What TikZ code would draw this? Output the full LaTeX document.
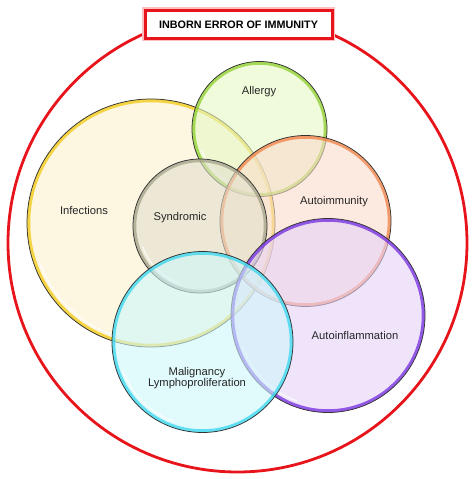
\documentclass[tikz,border=0pt]{standalone}
\usepackage{fontspec}
\setmainfont{Liberation Sans}
\definecolor{ired}{HTML}{E8141C}
\definecolor{yelF}{HTML}{FBF1CF}\definecolor{yelD}{HTML}{F2C600}
\definecolor{gryF}{HTML}{E2E0CE}\definecolor{gryD}{HTML}{A09E84}
\definecolor{grnF}{HTML}{E6F8C4}\definecolor{grnD}{HTML}{86CC20}
\definecolor{orgF}{HTML}{FADCCB}\definecolor{orgD}{HTML}{F07A3A}
\definecolor{purF}{HTML}{E6D2F8}\definecolor{purD}{HTML}{6A1FE0}
\definecolor{cyaF}{HTML}{CDF6FA}\definecolor{cyaD}{HTML}{2AD4EE}
\begin{document}
\begin{tikzpicture}[x=1pt,y=-1pt,
  bubfill/.style={fill=#1,fill opacity=0.6,draw=none},
  bubring/.style={draw=#1,line width=3.5pt,draw opacity=0.7},
  bubline/.style={draw=black!80,line width=0.75pt},
  lbl/.style={font=\fontsize{11.2}{12.5}\selectfont,text=black!85,inner sep=0pt,align=center}]
\useasboundingbox (0,0) rectangle (474,479);
% outer red circle
\draw[ired,line width=2.8pt] (237.5,243) ellipse [x radius=229.5pt,y radius=229pt];
% bubbles: center, radius, fill, ring
\foreach \cx/\cy/\r/\f/\d in {151/223/124/yelF/yelD, 259.5/129/67.5/grnF/grnD, 305.5/221/85.5/orgF/orgD, 200/226/67/gryF/gryD, 328/315.5/97/purF/purD, 202.5/342/90.5/cyaF/cyaD}{
  \fill[bubfill=\f] (\cx,\cy) circle[radius=\r pt];
  \begin{scope}
    \clip (\cx,\cy) circle[radius=\r pt];
    \draw[bubring=\d] (\cx,\cy) circle[radius=\r pt - 1.5pt];
    \draw[white,line width=1.5pt,opacity=0.7] ([shift={(200:\r pt - 6pt)}]\cx,\cy) arc[start angle=200,end angle=250,radius=\r pt - 6pt];
  \end{scope}
  \draw[bubline] (\cx,\cy) circle[radius=\r pt];
}
% labels
\node[lbl] (inf) at (84,210) {Infections};
\node[lbl] (syn) at (180,218) {Syndromic};
\node[lbl] (all) at (259,92) {Allergy};
\node[lbl] (aut) at (334,202) {Autoimmunity};
\node[lbl] (ain) at (355,335) {Autoinflammation};
\node[lbl] (mal) at (197,378) {Malignancy\\[-1.5pt]Lymphoproliferation};
% title box
\draw[red!25,line width=6.5pt] (145,10) rectangle (332,38);
\draw[ired,line width=3pt,fill=white] (145,10) rectangle (332,38);
\node[font=\bfseries\fontsize{10.8}{12}\selectfont,inner sep=0pt] (title) at (238.5,24.5) {INBORN ERROR OF IMMUNITY};
\end{tikzpicture}
\end{document}
